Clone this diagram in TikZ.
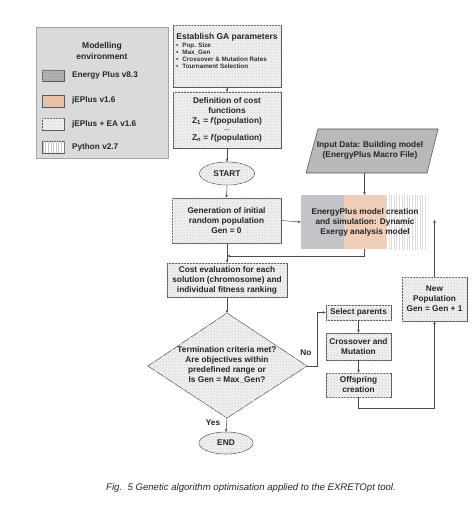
\documentclass[tikz,border=0pt]{standalone}
\usepackage{fontspec}
\setmainfont{Liberation Sans}
\usetikzlibrary{patterns,arrows.meta,shapes.geometric}
\definecolor{tanc}{HTML}{E9C2A6}
\definecolor{tanl}{HTML}{EFCDB6}
\definecolor{edgec}{HTML}{5A5A5A}
\definecolor{linec}{HTML}{4A4A4A}
\definecolor{epgray}{HTML}{C3C4C8}
\definecolor{legbg}{HTML}{DADADA}
\pgfdeclarepatternformonly{finecheck}{\pgfqpoint{0pt}{0pt}}{\pgfqpoint{3pt}{3pt}}{\pgfqpoint{3pt}{3pt}}{%
  \pgfpathrectangle{\pgfqpoint{0pt}{0pt}}{\pgfqpoint{1.5pt}{1.5pt}}%
  \pgfpathrectangle{\pgfqpoint{1.5pt}{1.5pt}}{\pgfqpoint{1.5pt}{1.5pt}}%
  \pgfusepath{fill}}
\pgfdeclarepatternformonly{finevlines}{\pgfqpoint{0pt}{-1pt}}{\pgfqpoint{2.6pt}{1pt}}{\pgfqpoint{2.6pt}{1pt}}{%
  \pgfsetlinewidth{0.4pt}%
  \pgfpathmoveto{\pgfqpoint{1.3pt}{-1pt}}\pgfpathlineto{\pgfqpoint{1.3pt}{2pt}}%
  \pgfusepath{stroke}}
\tikzset{
  dotfill/.style={fill=gray!9, postaction={pattern=finecheck, pattern color=gray!30}},
  boxstyle/.style={draw=edgec, line width=0.6pt, dotfill, inner sep=0pt, align=center},
  txt/.style={font=\fontsize{8.3}{10}\selectfont\bfseries, align=center, inner sep=0pt, text=black!85},
  arr/.style={draw=linec, line width=0.5pt, -{Stealth[length=3pt,width=2.6pt]}},
  swatch/.style={draw=edgec, line width=0.5pt},
  legtxt/.style={font=\fontsize{8.2}{9}\selectfont\bfseries, anchor=west, inner sep=0pt, text=black!85},
  bul/.style={font=\fontsize{6.3}{7}\selectfont\bfseries, anchor=west, inner sep=0pt, text=black!80}
}
\begin{document}
\begin{tikzpicture}[x=1pt,y=-1pt]
\useasboundingbox (0,0) rectangle (474,513);
\fill[white] (0,0) rectangle (474,513);

% Legend
\node[draw=gray!70, line width=0.7pt, fill=legbg, minimum width=132pt, minimum height=131pt, inner sep=0pt] (legend) at (102,92.5) {};
\node[txt, font=\fontsize{8.5}{10.5}\selectfont\bfseries] (legtitle) at (102,51) {Modelling\\environment};
\draw[swatch, fill=gray!58, postaction={pattern=finecheck, pattern color=gray!75}] (42,70) rectangle (64,81);
\draw[swatch, fill=tanc] (42,95) rectangle (64,107);
\draw[swatch, dotfill] (42,118) rectangle (64,130);
\draw[swatch, fill=white, postaction={pattern=finevlines, pattern color=gray!45}] (42,141) rectangle (64,153);
\node[legtxt] (l1) at (72,75.5) {Energy Plus v8.3};
\node[legtxt] (l2) at (72,100.5) {jEPlus v1.6};
\node[legtxt] (l3) at (72,124) {jEPlus + EA v1.6};
\node[legtxt] (l4) at (72,147) {Python v2.7};

% GA parameters
\node[boxstyle, minimum width=108pt, minimum height=62pt] (ga) at (227,56) {};
\node[txt, font=\fontsize{8.5}{10}\selectfont\bfseries] (gatitle) at (227,37.5) {Establish GA parameters};
\node[bul] (b1) at (176,45.5) {\textbullet\hspace{4pt}Pop. Size};
\node[bul] (b2) at (176,52.5) {\textbullet\hspace{4pt}Max\_Gen};
\node[bul] (b3) at (176,59.5) {\textbullet\hspace{4pt}Crossover \& Mutation Rates};
\node[bul] (b4) at (176,66.5) {\textbullet\hspace{4pt}Tournament Selection};

% Cost functions
\node[boxstyle, minimum width=108pt, minimum height=56pt] (cf) at (227,120) {};
\node[txt] (cftext) at (227,119.5) {Definition of cost\\functions\\Z\textsubscript{1} = \textit{f}(population)\\[-2.5pt]{\fontsize{5}{5}\selectfont ....}\\[-0.5pt]Z\textsubscript{n} = \textit{f}(population)};

% START
\node[ellipse, draw=edgec, line width=0.6pt, dotfill, minimum width=55pt, minimum height=23pt, inner sep=0pt, txt] (start) at (227,173.5) {START};

% Generation
\node[boxstyle, txt, minimum width=109pt, minimum height=45pt] (gen) at (226.5,220.5) {Generation of initial\\random population\\Gen = 0};

% Input data parallelogram
\fill[gray!55] (318,129) -- (438,129) -- (427,173) -- (306,173) -- cycle;
\draw[edgec, line width=0.6pt] (318,129) -- (438,129) -- (427,173) -- (306,173) -- cycle;
\node[txt] (input) at (370,150) {Input Data: Building model\\(EnergyPlus Macro File)};
\coordinate (inbot) at (364.5,173);

% EnergyPlus model box
\fill[epgray] (301,195) rectangle (344,249);
\fill[tanl] (344,195) rectangle (386,249);
\fill[white, postaction={pattern=finevlines, pattern color=gray!28}] (386,195) rectangle (428,249);
\node[minimum width=127pt, minimum height=54pt, inner sep=0pt] (energy) at (364.5,222) {};
\node[txt] (entext) at (365,222) {EnergyPlus model creation\\and simulation: Dynamic\\Exergy analysis model};

% Cost evaluation
\node[boxstyle, txt, minimum width=120pt, minimum height=34pt] (cost) at (227,280) {Cost evaluation for each\\solution (chromosome) and\\individual fitness ranking};

% Diamond
\coordinate (dtop) at (227,313);
\coordinate (dright) at (307,366);
\coordinate (dbot) at (227,418);
\coordinate (dleft) at (148,366);
\draw[edgec, line width=0.6pt, dotfill] (dtop) -- (dright) -- (dbot) -- (dleft) -- cycle;
\node[txt] (dia) at (227,365) {Termination criteria met?\\Are objectives within\\predefined range or\\Is Gen = Max\_Gen?};

% Right column
\node[boxstyle, txt, minimum width=65pt, minimum height=15pt] (sel) at (358.5,312.5) {Select parents};
\node[boxstyle, txt, minimum width=65pt, minimum height=27pt] (cross) at (358.5,346.5) {Crossover and\\Mutation};
\node[boxstyle, txt, minimum width=65pt, minimum height=24pt] (off) at (358.5,385) {Offspring\\creation};
\node[boxstyle, txt, minimum width=65pt, minimum height=44pt] (np) at (434.5,299) {New\\Population\\Gen = Gen + 1};
\coordinate (npt) at (434.5,220);

% END
\node[ellipse, draw=edgec, line width=0.6pt, dotfill, minimum width=54pt, minimum height=22pt, inner sep=0pt, txt] (endn) at (226,443) {END};

% Labels
\node[txt] (nolab) at (306,353) {No};
\node[txt] (yeslab) at (213,423) {Yes};

% Connectors
\draw[arr] (ga.south) -- (cf.north);
\draw[arr] (cf.south) -- (start.north);
\draw[arr] (start.south) -- (gen.north);
\draw[arr] (gen.south -| cost.north) -- (cost.north);
\draw[arr] (gen.east) -- (energy.west);
\draw[arr] (inbot) -- (energy.north);
\coordinate (fb) at (227.5,256);
\draw[arr] (energy.south) |- (fb);
\draw[arr] (cost.south) -- (dtop);
\draw[arr] (dright) -- ++(10,0) |- (sel.west);
\draw[arr] (dbot) -- (endn.north);
\draw[arr] (sel.south) -- (cross.north);
\draw[arr] (cross.south) -- (off.north);
\draw[arr] (off.south) -- ++(0,11) -| (np.south);
\draw[arr] (np.north) -- (npt);

% Caption
\node[font=\fontsize{9.6}{11}\selectfont\itshape, inner sep=0pt, text=black!85] (caption) at (251,488) {Fig.\ \ 5 Genetic algorithm optimisation applied to the EXRETOpt tool.};
\end{tikzpicture}
\end{document}
